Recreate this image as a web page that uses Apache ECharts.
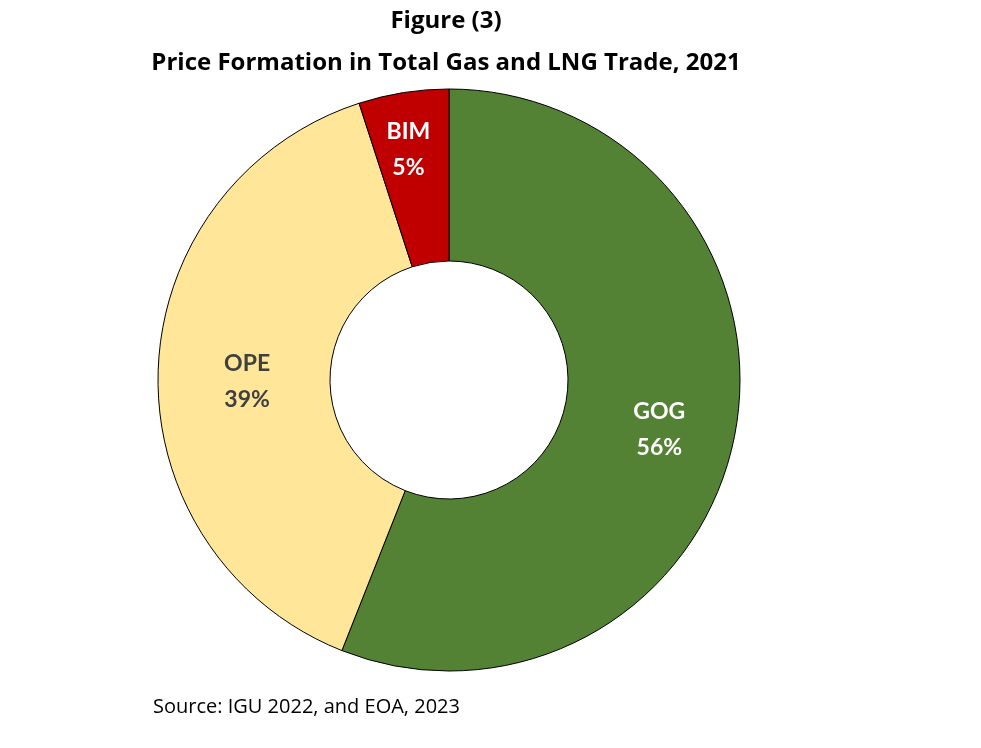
<!DOCTYPE html>
<html>
<head>
<meta charset="utf-8">
<script src="https://cdn.jsdelivr.net/npm/echarts@6/dist/echarts.min.js"></script>
<style>
html,body{margin:0;padding:0;background:#fff;}
#chart{width:981px;height:748px;}
</style>
</head>
<body>
<div id="chart"></div>
<script>
const categories = ['GOG', 'OPE', 'BIM'];
const values = [56, 39, 5];
const colors = ['#548235', '#FFE699', '#C00000'];
const labelColors = ['#ffffff', '#404040', '#ffffff'];

const chart = echarts.init(document.getElementById('chart'));
chart.setOption({
  animation: false,
  title: [
    {
      text: 'Figure (3)\nPrice Formation in Total Gas and LNG Trade, 2021',
      left: 446, top: 0, textAlign: 'center', padding: 0,
      textStyle: {fontFamily: 'Open Sans', fontWeight: 'bold', fontSize: 24, color: '#000', lineHeight: 42}
    },
    {
      text: 'Source: IGU 2022, and EOA, 2023',
      left: 153, top: 697, padding: 0,
      textStyle: {fontFamily: 'Open Sans', fontWeight: 'normal', fontSize: 20, color: '#000'}
    }
  ],
  series: [{
    type: 'pie',
    center: [449, 380],
    radius: [119, 291],
    startAngle: 90,
    clockwise: true,
    avoidLabelOverlap: false,
    label: {
      show: true,
      position: 'inside',
      formatter: p => p.name + '\n' + p.value + '%',
      fontFamily: 'Lato', fontWeight: 'bold', fontSize: 23, lineHeight: 36
    },
    labelLine: {show: false},
    itemStyle: {borderColor: '#000', borderWidth: 1},
    emphasis: {disabled: true},
    labelLayout: function (params) {
      if (params.dataIndex === 2) return {dx: -8, dy: -25};
      if (params.dataIndex === 0) return {dx: 6, dy: 11};
      return {dx: 6, dy: 8};
    },
    data: categories.map((c, i) => ({
      name: c, value: values[i],
      itemStyle: {color: colors[i]},
      label: {color: labelColors[i]}
    }))
  }]
});
</script>
</body>
</html>
